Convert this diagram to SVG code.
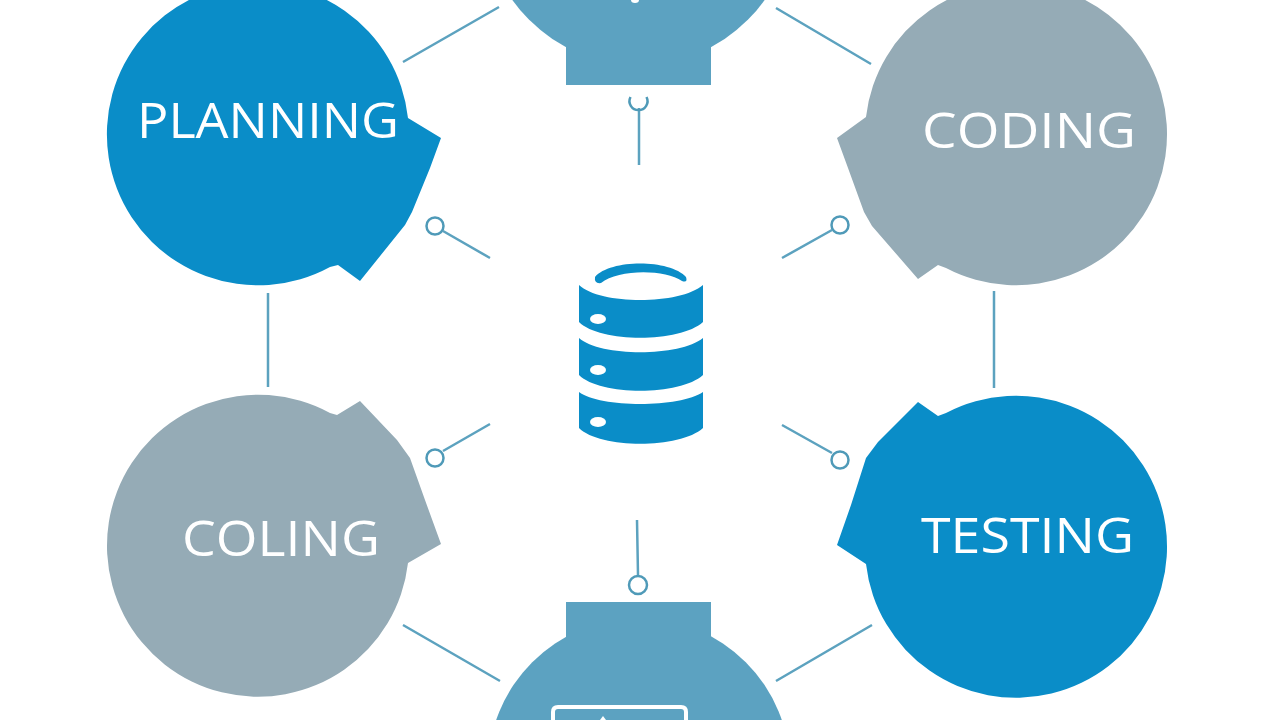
<svg xmlns="http://www.w3.org/2000/svg" width="1280" height="720" viewBox="0 0 1280 720">
<style>
.blue{fill:#0a8dc8}
.gray{fill:#95abb6}
.teal{fill:#5ca2c1}
.lbl{fill:#fff;font-family:"Open Sans","Noto Sans",sans-serif;font-size:50px}
.ln{fill:none;stroke:#5ca2bf;stroke-width:2.5}
.ring{fill:#fff;stroke:#4f9ab8;stroke-width:2.5}
</style>
<rect width="1280" height="720" fill="#fff"/>
<g id="connectors">
<path class="ln" d="M403 62L499 7M776 8L871 64M639 108V165M490 258L443 231M782 258L832 230M268 293V387M994 291V388M490 424L443 451M782 425L832 453M637 520L638 575M403 625L500 681M872 625L776 681"/>
<path class="ring" style="fill:none" d="M630.500 97A9 9 0 1 0 646.500 97"/>
<circle class="ring" cx="435" cy="226" r="8.500"/>
<circle class="ring" cx="840" cy="225" r="8.500"/>
<circle class="ring" cx="435" cy="458" r="8.500"/>
<circle class="ring" cx="840" cy="460" r="8.500"/>
<circle class="ring" cx="638" cy="585" r="9"/>
</g>
<g id="planning">
<path class="blue" d="M330 267A151 151 0 1 1 408 118L441 138L430 168L412 212L405 225L360 281L338 265Z"/>
<text class="lbl" x="137" y="138" textLength="262" lengthAdjust="spacingAndGlyphs">PLANNING</text>
</g>
<g id="coding">
<path class="gray" d="M946 268A151 151 0 1 0 866 117L837 138L848 168L864 212L872 226L918 279L938 265Z"/>
<text class="lbl" x="922" y="148" textLength="214" lengthAdjust="spacingAndGlyphs">CODING</text>
</g>
<g id="coling">
<path class="gray" d="M330 413A151 151 0 1 0 408 563L441 544L425 500L410 458L397 440L360 401L337 415Z"/>
<text class="lbl" x="182" y="556" textLength="198" lengthAdjust="spacingAndGlyphs">COLING</text>
</g>
<g id="testing">
<path class="blue" d="M946 413A151 151 0 1 1 866 564L837 545L851 505L866 458L878 442L918 402L938 416Z"/>
<text class="lbl" x="921" y="553" textLength="213" lengthAdjust="spacingAndGlyphs">TESTING</text>
</g>
<g id="top-node" class="teal">
<circle cx="638.500" cy="-90" r="155"/>
<rect x="566" y="0" width="145" height="85"/>
<ellipse cx="635" cy="0" rx="4" ry="3" fill="#fff"/>
</g>
<g id="bottom-node" class="teal">
<circle cx="639" cy="769" r="151"/>
<rect x="566" y="602" width="145" height="60"/>
<path d="M553 720V712Q553 707 558 707H681Q686 707 686 712V720" fill="none" stroke="#fff" stroke-width="4"/>
<path d="M600 720L603 716L606 720Z" fill="#fff"/>
</g>
<g id="database" class="blue">
<path d="M595 277C610 259 670 259 686 277Q688 283 682 281C665 269 618 269 601 283Q594 284 595 277Z"/>
<path d="M579 285C600 305 680 305 703 285V322C680 343 600 343 579 322Z"/>
<path d="M579 338C600 357 680 357 703 338V375C680 396 600 396 579 375Z"/>
<path d="M579 392C600 408 680 408 703 392V428C680 449 600 449 579 428Z"/>
<ellipse cx="598" cy="319" rx="8" ry="5" fill="#fff"/>
<ellipse cx="598" cy="370" rx="8" ry="5" fill="#fff"/>
<ellipse cx="598" cy="422" rx="8" ry="5" fill="#fff"/>
</g>
</svg>
